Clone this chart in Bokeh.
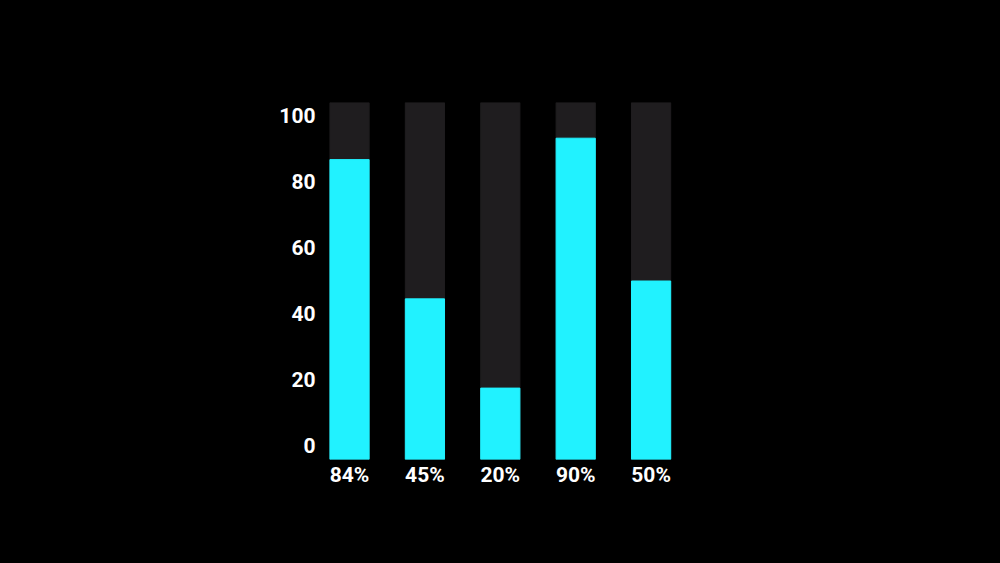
from bokeh.plotting import figure
from bokeh.models import LinearAxis, Range1d, FixedTicker
from bokeh.embed import file_html
from bokeh.resources import INLINE

# data
positions = [1, 2, 3, 4, 5]
values = [84, 45, 20, 90, 50]
full = [100, 100, 100, 100, 100]
tick_values = [0, 20, 40, 60, 80, 100]

CYAN = "#21f2ff"
GRAY = "#1f1d1f"
FONT = "Roboto"

p = figure(width=992, height=555, output_backend="svg", toolbar_location=None,
           x_range=Range1d(0.615, 5.39), y_range=Range1d(0, 100),
           min_border_left=320, min_border_right=312,
           min_border_top=102, min_border_bottom=96,
           background_fill_color="black", border_fill_color="black",
           outline_line_color=None)
p.xaxis.visible = False
p.yaxis.visible = False
p.grid.visible = False

p.vbar(x=positions, top=full, bottom=0, width=0.52, color=GRAY)
p.vbar(x=positions, top=values, bottom=0, width=0.52, color=CYAN)

# decorative y labels
p.extra_y_ranges = {"ticks": Range1d(-4.24, 103.94)}
yax = LinearAxis(y_range_name="ticks", ticker=FixedTicker(ticks=tick_values))
yax.axis_line_color = None
yax.major_tick_line_color = None
yax.minor_tick_line_color = None
yax.major_label_standoff = -1
yax.major_label_text_color = "white"
yax.major_label_text_font = FONT
yax.major_label_text_font_style = "bold"
yax.major_label_text_font_size = "21px"
p.add_layout(yax, "left")

xax = LinearAxis(ticker=FixedTicker(ticks=positions))
xax.major_label_overrides = {pos: f"{v}%" for pos, v in zip(positions, values)}
xax.axis_line_color = None
xax.major_tick_line_color = None
xax.minor_tick_line_color = None
xax.major_label_standoff = -3
xax.major_label_text_color = "white"
xax.major_label_text_font = FONT
xax.major_label_text_font_style = "bold"
xax.major_label_text_font_size = "21px"
p.add_layout(xax, "below")

html = file_html(p, INLINE)
html = html.replace("<head>", "<head><style>html,body{background:#000;}</style>", 1)
open("out.html", "w").write(html)
